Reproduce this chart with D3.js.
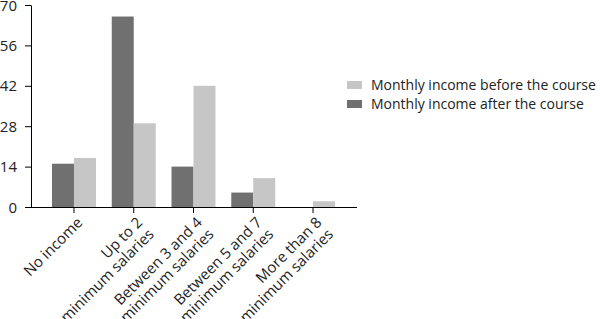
<!DOCTYPE html>
<html>
<head>
<meta charset="utf-8">
<script src="https://cdn.jsdelivr.net/npm/d3@7"></script>
<style>
  body { margin: 0; background: #fff; }
  svg { display: block; font-family: "Open Sans", sans-serif; }
</style>
</head>
<body>
<svg id="chart" width="600" height="319"></svg>
<script>
// chart data
var categories = [
  ['No income'],
  ['Up to 2', 'minimum salaries'],
  ['Between 3 and 4', 'minimum salaries'],
  ['Between 5 and 7', 'minimum salaries'],
  ['More than 8', 'minimum salaries']
];
var afterCourse = [15, 66, 14, 5, 0];
var beforeCourse = [17, 29, 42, 10, 2];
var yTicks = [0, 14, 28, 42, 56, 70];
var seriesNames = ['Monthly income before the course', 'Monthly income after the course'];

var darkColor = '#707070';
var lightColor = '#c6c6c6';
var fontSize = '15px';

var x0 = 44.1, x1 = 342.9;   // band range
var yTop = 5, yBottom = 207;
var axisLeft = 31;

var svg = d3.select('#chart');

var names = categories.map(d => d.join(' '));

var xScale = d3.scaleBand()
  .domain(names)
  .range([x0, x1])
  .paddingInner(0.264)
  .paddingOuter(0.132);

var inner = d3.scaleBand()
  .domain(['after', 'before'])
  .range([0, xScale.bandwidth()]);

var yScale = d3.scaleLinear()
  .domain([0, 70])
  .range([yBottom, yTop]);

var rows = names.map((n, i) => ({name: n, after: afterCourse[i], before: beforeCourse[i]}));

// bars
var groups = svg.append('g')
  .selectAll('g')
  .data(rows)
  .enter()
  .append('g')
    .attr('transform', d => 'translate(' + xScale(d.name) + ',0)');

groups.selectAll('rect')
  .data(d => [{k: 'after', v: d.after}, {k: 'before', v: d.before}])
  .enter()
  .append('rect')
    .attr('x', d => inner(d.k))
    .attr('y', d => yScale(d.v))
    .attr('width', inner.bandwidth())
    .attr('height', d => yBottom - yScale(d.v))
    .style('fill', d => d.k === 'after' ? darkColor : lightColor);

// y axis
var yAxis = d3.axisLeft(yScale)
  .tickValues(yTicks)
  .tickSize(6)
  .tickSizeOuter(0)
  .tickPadding(8);

var yg = svg.append('g')
  .attr('transform', 'translate(' + axisLeft + ',0)')
  .call(yAxis);
yg.select('.domain').attr('stroke', '#000');
yg.selectAll('text')
  .style('font-size', fontSize)
  .style('font-family', '"Open Sans", sans-serif')
  .attr('dy', '0.34em')
  .attr('fill', '#222');

// x axis
var xAxis = d3.axisBottom(xScale).tickSize(6).tickSizeOuter(0).tickFormat('');
var xg = svg.append('g')
  .attr('transform', 'translate(0,' + yBottom + ')')
  .call(xAxis);
xg.select('.domain').remove();
xg.append('line')
  .attr('x1', 25).attr('x2', 357)
  .attr('y1', 0.5).attr('y2', 0.5)
  .attr('stroke', '#000');

// rotated two line labels
var labels = svg.append('g')
  .selectAll('text')
  .data(categories)
  .enter()
  .append('text')
    .attr('transform', (d, i) => 'translate(' + (xScale(names[i]) + xScale.bandwidth() / 2 + 1) + ',215) rotate(-45)')
    .attr('text-anchor', 'end')
    .style('font-size', fontSize)
    .attr('fill', '#222');

labels.selectAll('tspan')
  .data(d => d)
  .enter()
  .append('tspan')
    .attr('x', 0)
    .attr('y', (d, i) => 12 + i * 16.5)
    .text(d => d);

// legend
var legend = svg.append('g')
  .selectAll('g')
  .data(seriesNames)
  .enter()
  .append('g')
    .attr('transform', (d, i) => 'translate(347,' + (81 + i * 19) + ')');

legend.append('rect')
  .attr('width', 15)
  .attr('height', 8)
  .style('fill', (d, i) => i === 0 ? lightColor : darkColor);

legend.append('text')
  .attr('x', 24)
  .attr('y', 9)
  .style('font-size', '14px')
  .attr('fill', '#222')
  .text(d => d);
</script>
</body>
</html>
